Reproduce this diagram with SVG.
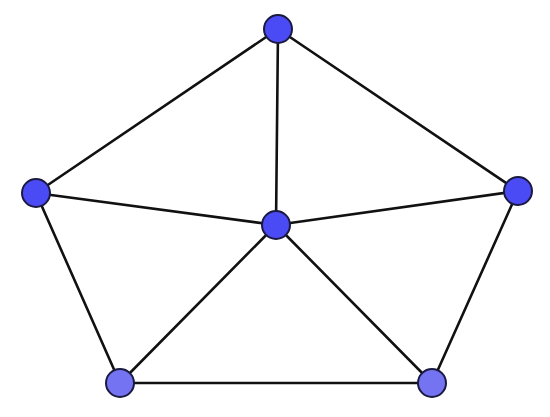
<svg xmlns="http://www.w3.org/2000/svg" width="550" height="417" viewBox="0 0 550 417">
<style>
.e{stroke:#111;stroke-width:2.6;fill:none;stroke-linecap:round}
.n{stroke:#1a1a40;stroke-width:2}
.d{fill:#4b4bf5}
.l{fill:#7474f2}
</style>
<rect width="550" height="417" fill="#fff"/>
<g id="connectors">
<line class="e" x1="278" y1="29" x2="36" y2="193"/>
<line class="e" x1="278" y1="29" x2="518" y2="191"/>
<line class="e" x1="278" y1="29" x2="276" y2="225"/>
<line class="e" x1="36" y1="193" x2="276" y2="225"/>
<line class="e" x1="518" y1="191" x2="276" y2="225"/>
<line class="e" x1="36" y1="193" x2="120" y2="383"/>
<line class="e" x1="518" y1="191" x2="432" y2="383"/>
<line class="e" x1="276" y1="225" x2="120" y2="383"/>
<line class="e" x1="276" y1="225" x2="432" y2="383"/>
<line class="e" x1="120" y1="383" x2="432" y2="383"/>
</g>
<g id="n1"><circle class="n d" cx="278" cy="29" r="14"/></g>
<g id="n2"><circle class="n d" cx="36" cy="193" r="14"/></g>
<g id="n3"><circle class="n d" cx="518" cy="191" r="14"/></g>
<g id="n4"><circle class="n d" cx="276" cy="225" r="14"/></g>
<g id="n5"><circle class="n l" cx="120" cy="383" r="14"/></g>
<g id="n6"><circle class="n l" cx="432" cy="383" r="14"/></g>
</svg>
